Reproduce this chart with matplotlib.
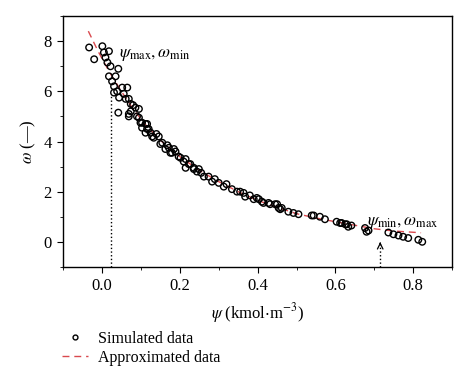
import matplotlib
matplotlib.use("Agg")
import matplotlib.pyplot as plt
from matplotlib.lines import Line2D

# Simulated data
sim_psi = [-0.033, -0.02, 0.001, 0.018, 0.005, 0.009, 0.014, 0.042, 0.018, 0.026,
           0.031, 0.039, 0.052, 0.065, 0.031, 0.044, 0.042, 0.069, 0.074, 0.069,
           0.086, 0.095, 0.099, 0.112, 0.116, 0.103, 0.125, 0.133, 0.146, 0.155,
           0.172, 0.185, 0.061, 0.074, 0.069, 0.095, 0.103, 0.116, 0.112, 0.129,
           0.15, 0.163, 0.176, 0.189, 0.202, 0.215, 0.223, 0.236, 0.244, 0.197,
           0.21, 0.215, 0.227, 0.236, 0.249, 0.262, 0.274, 0.283, 0.3, 0.313,
           0.334, 0.347, 0.364, 0.368, 0.39, 0.403, 0.415, 0.432, 0.45, 0.454,
           0.479, 0.462, 0.492, 0.505, 0.539, 0.56, 0.573, 0.603, 0.616, 0.629,
           0.641, 0.633, 0.676, 0.68, 0.398, 0.411, 0.428, 0.445, 0.458, 0.544,
           0.612, 0.625, 0.685, 0.736, 0.749, 0.762, 0.774, 0.787, 0.813, 0.823,
           0.022, 0.035, 0.056, 0.08, 0.09, 0.12, 0.14, 0.168, 0.18, 0.255,
           0.29, 0.32, 0.355, 0.38]
sim_omega = [7.75, 7.28, 7.8, 7.6, 7.55, 7.35, 7.15, 6.9, 6.6, 6.4,
             6.2, 6.0, 6.15, 6.15, 5.95, 5.75, 5.15, 5.7, 5.2, 5.0,
             5.35, 5.3, 4.75, 4.7, 4.5, 4.55, 4.35, 4.15, 4.2, 3.95,
             3.75, 3.7, 5.7, 5.5, 5.1, 4.95, 4.75, 4.7, 4.35, 4.2,
             3.9, 3.7, 3.55, 3.6, 3.35, 3.3, 3.1, 2.95, 2.8, 3.4,
             3.2, 2.95, 3.1, 2.9, 2.9, 2.6, 2.6, 2.4, 2.35, 2.2,
             2.1, 2.0, 1.95, 1.8, 1.7, 1.7, 1.55, 1.5, 1.5, 1.35,
             1.2, 1.35, 1.15, 1.1, 1.05, 1.0, 0.9, 0.8, 0.75, 0.7,
             0.65, 0.6, 0.55, 0.4, 1.75, 1.6, 1.55, 1.5, 1.3, 1.05,
             0.75, 0.7, 0.45, 0.37, 0.3, 0.25, 0.2, 0.15, 0.08, 0.0,
             7.0, 6.6, 5.9, 5.45, 5.0, 4.5, 4.3, 3.85, 3.55, 2.75,
             2.5, 2.3, 2.0, 1.85]

# Approximated data
apx_psi = [-0.035, -0.01, 0.02, 0.05, 0.08, 0.11, 0.15, 0.2, 0.25, 0.3, 0.35,
           0.4, 0.45, 0.5, 0.55, 0.6, 0.65, 0.7, 0.75, 0.8, 0.82]
apx_omega = [8.4, 7.6, 6.75, 6.0, 5.3, 4.7, 4.05, 3.4, 2.85, 2.4, 2.0,
             1.65, 1.38, 1.12, 0.95, 0.8, 0.66, 0.52, 0.43, 0.38, 0.36]

x_ticks = [0.0, 0.2, 0.4, 0.6, 0.8]
y_ticks = [0, 2, 4, 6, 8]

plt.rcParams['font.family'] = ['Liberation Serif', 'DejaVu Serif']
plt.rcParams['mathtext.fontset'] = 'stix'

fig = plt.figure(figsize=(4.74, 3.84), dpi=100)
ax = fig.add_axes([0.133, 0.305, 0.821, 0.653])

line_red = '#d9494e'
ax.plot(apx_psi, apx_omega, linestyle=(0, (5, 3.5)), color=line_red, lw=1.0, zorder=2)
ax.scatter(sim_psi, sim_omega, s=22, facecolors='none', edgecolors='black',
           linewidths=1.0, zorder=3)

# marker lines
ax.plot([0.024, 0.024], [-1, 5.8], linestyle=':', color='black', lw=1.0)
ax.plot([0.715, 0.715], [-1, 0.0], linestyle=':', color='black', lw=1.0)
ax.annotate('', xy=(0.715, 0.1), xytext=(0.715, -0.2),
            arrowprops=dict(arrowstyle='->', color='black', lw=0.9))

ax.text(0.045, 7.45, r'$\psi_{\mathrm{max}}, \omega_{\mathrm{min}}$', fontsize=12.5,
        va='center', ha='left')
ax.text(0.68, 0.75, r'$\psi_{\mathrm{min}}, \omega_{\mathrm{max}}$', fontsize=12.5,
        va='center', ha='left')

ax.set_xlim(-0.1, 0.9)
ax.set_ylim(-1, 9)
ax.set_xticks(x_ticks)
ax.set_xticklabels([f'{v:.1f}' for v in x_ticks])
ax.set_yticks(y_ticks)
ax.set_xticks([-0.1, 0.1, 0.3, 0.5, 0.7, 0.9], minor=True)
ax.set_yticks([-1, 1, 3, 5, 7, 9], minor=True)
ax.tick_params(which='both', direction='out', labelsize=12, top=False, right=False)
ax.tick_params(which='major', length=4, pad=4)
ax.tick_params(which='minor', length=2.5)
for s in ax.spines.values():
    s.set_linewidth(1.0)

ax.set_xlabel(r'$\psi$ (kmol$\cdot$m$^{-3}$)', fontsize=12, labelpad=5)
ax.set_ylabel(r'$\omega$ (—)', fontsize=12, labelpad=4)

handles = [Line2D([], [], linestyle='none', marker='o', markerfacecolor='none',
                  markeredgecolor='black', markersize=3.5),
           Line2D([], [], linestyle=(0, (5, 3.5)), color=line_red, lw=1.0)]
fig.legend(handles, ['Simulated data', 'Approximated data'], loc='upper left',
           bbox_to_anchor=(0.115, 0.16), frameon=False, fontsize=11.5,
           handlelength=1.6, handletextpad=0.6, labelspacing=0.2, borderpad=0)

fig.savefig('out.png', dpi=100)
